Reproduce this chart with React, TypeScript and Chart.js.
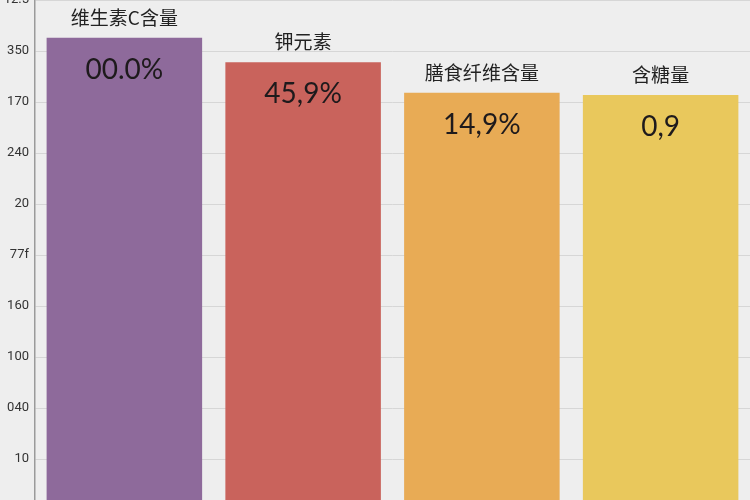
import { useEffect, useRef } from 'react'
import { Chart, registerables } from 'chart.js'

Chart.register(...registerables)

// categories and bar heights (in axis units, one gridline = 1)
const categories = ['维生素C含量', '钾元素', '膳食纤维含量', '含糖量']
const values = [9.26, 8.78, 8.18, 8.14]
const valueLabels = ['00.0%', '45,9%', '14,9%', '0,9']
const barColors = ['#8e6a9b', '#c9635c', '#e8ab55', '#e9c85c']

// tick labels as they appear on the axis, bottom to top
const tickLabels = ['10', '040', '100', '160', '77f', '20', '240', '170', '350', '12.5']

const labelPlugin = {
  id: 'barLabels',
  afterDatasetsDraw(chart) {
    const ctx = chart.ctx
    const meta = chart.getDatasetMeta(0)
    ctx.save()
    ctx.textAlign = 'center'
    ctx.textBaseline = 'middle'
    meta.data.forEach((bar, i) => {
      ctx.fillStyle = '#222'
      ctx.font = '19px "Noto Sans CJK SC", sans-serif'
      ctx.fillText(categories[i], bar.x, bar.y - 20)
      ctx.fillStyle = '#1e1a1c'
      ctx.font = '28px Lato, "Noto Sans", sans-serif'
      ctx.fillText(valueLabels[i], bar.x, bar.y + 32)
    })
    ctx.restore()
  }
}

export default function App() {
  const chartRef = useRef(null)
  const chartInstance = useRef(null)

  useEffect(() => {
    if (!chartRef.current) return
    if (chartInstance.current) chartInstance.current.destroy()

    const ctx = chartRef.current.getContext('2d')
    chartInstance.current = new Chart(ctx, {
      type: 'bar',
      data: {
        labels: categories,
        datasets: [{
          data: values,
          backgroundColor: barColors,
          borderWidth: 0,
          barPercentage: 0.87,
          categoryPercentage: 1
        }]
      },
      options: {
        animation: false,
        responsive: false,
        layout: { padding: 0 },
        scales: {
          x: {
            display: false
          },
          y: {
            min: 0.2,
            max: 10,
            afterBuildTicks: (axis) => {
              axis.ticks = tickLabels.map((_, i) => ({ value: i + 1 }))
            },
            afterFit: (axis) => {
              axis.width = 35
              axis.paddingTop = 0
              axis.paddingBottom = 0
            },
            border: { color: '#9a9a9a', width: 1.5 },
            grid: { color: '#d6d6d6', drawTicks: false },
            ticks: {
              padding: 6,
              color: '#333',
              font: { family: 'Roboto', size: 13 },
              callback: (value) => tickLabels[Math.round(value) - 1] ?? ''
            }
          }
        },
        plugins: {
          legend: { display: false },
          tooltip: { enabled: false }
        }
      },
      plugins: [labelPlugin]
    })

    return () => {
      if (chartInstance.current) chartInstance.current.destroy()
    }
  }, [])

  return (
    <div style={{ position: 'fixed', left: 0, top: 0, width: 750, height: 500, background: '#eeeeee' }}>
      <canvas ref={chartRef} width={750} height={500} style={{ width: 750, height: 500 }} />
    </div>
  )
}
